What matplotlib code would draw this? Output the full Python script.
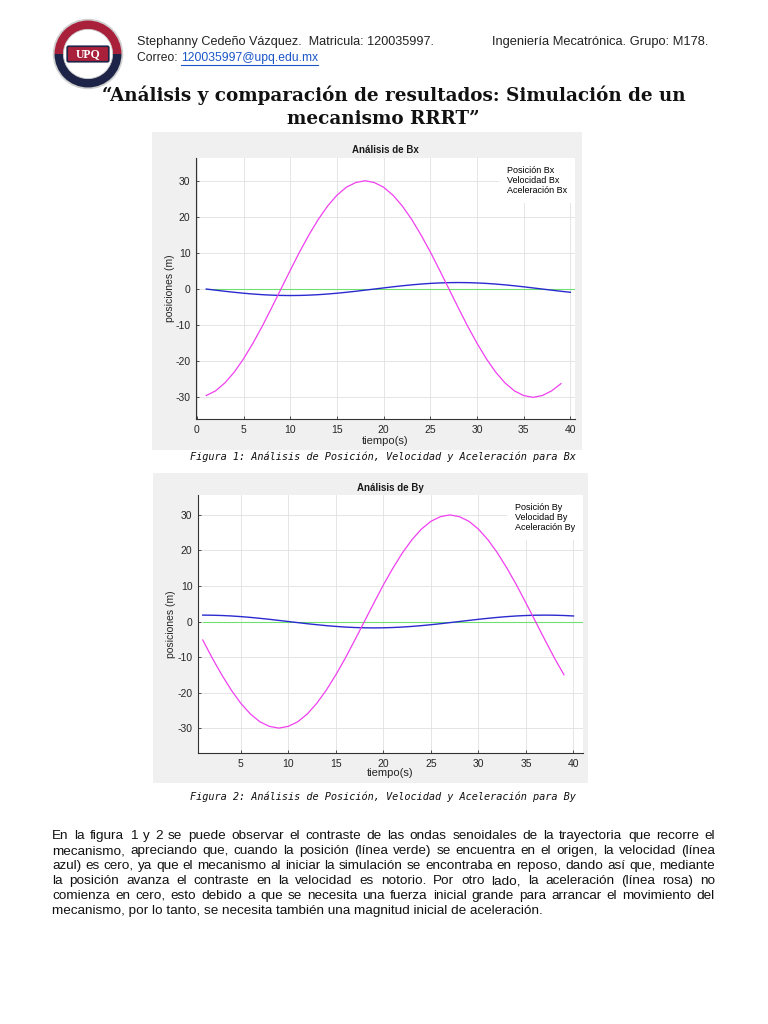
import matplotlib
matplotlib.use('Agg')
import matplotlib.pyplot as plt
from matplotlib.patches import Circle, Wedge, Rectangle, FancyBboxPatch
from matplotlib.lines import Line2D

plt.rcParams['axes.unicode_minus'] = False

# ---------------- data ----------------
tiempo = list(range(1, 42))

bx_pos = [0.0] * 41
bx_vel = [0, -0.31, -0.62, -0.9, -1.16, -1.38, -1.56, -1.69, -1.77, -1.8,
          -1.77, -1.69, -1.56, -1.38, -1.16, -0.9, -0.62, -0.31, 0, 0.31,
          0.62, 0.9, 1.16, 1.38, 1.56, 1.69, 1.77, 1.8, 1.77, 1.69,
          1.56, 1.38, 1.16, 0.9, 0.62, 0.31, 0, -0.31, -0.62, -0.9]
bx_acc = [-29.5, -28.2, -26.0, -23.0, -19.3, -15.0, -10.3, -5.2, 0.0, 5.2,
          10.3, 15.0, 19.3, 23.0, 26.0, 28.2, 29.5, 30.0, 29.5, 28.2,
          26.0, 23.0, 19.3, 15.0, 10.3, 5.2, 0.0, -5.2, -10.3, -15.0,
          -19.3, -23.0, -26.0, -28.2, -29.5, -30.0, -29.5, -28.2, -26.2]

by_pos = [0.0] * 41
by_vel = [1.8, 1.77, 1.69, 1.56, 1.38, 1.16, 0.9, 0.62, 0.31, 0,
          -0.31, -0.62, -0.9, -1.16, -1.38, -1.56, -1.69, -1.77, -1.8, -1.77,
          -1.69, -1.56, -1.38, -1.16, -0.9, -0.62, -0.31, 0, 0.31, 0.62,
          0.9, 1.16, 1.38, 1.56, 1.69, 1.77, 1.8, 1.77, 1.69, 1.56]
by_acc = [-5.2, -10.3, -15.0, -19.3, -23.0, -26.0, -28.2, -29.5, -30.0, -29.5,
          -28.2, -26.0, -23.0, -19.3, -15.0, -10.3, -5.2, 0.0, 5.2, 10.3,
          15.0, 19.3, 23.0, 26.0, 28.2, 29.5, 30.0, 29.5, 28.2, 26.0,
          23.0, 19.3, 15.0, 10.3, 5.2, 0.0, -5.2, -10.3, -15.0]

yticks = [-30, -20, -10, 0, 10, 20, 30]
xticks1 = [0, 5, 10, 15, 20, 25, 30, 35, 40]
xticks2 = [5, 10, 15, 20, 25, 30, 35, 40]
labels_bx = ['Posición Bx', 'Velocidad Bx', 'Aceleración Bx']
labels_by = ['Posición By', 'Velocidad By', 'Aceleración By']

paragraph = [
    "En la figura 1 y 2 se puede observar el contraste de las ondas senoidales de la trayectoria que recorre el",
    "mecanismo, apreciando que, cuando la posición (línea verde) se encuentra en el origen, la velocidad (línea",
    "azul) es cero, ya que el mecanismo al iniciar la simulación se encontraba en reposo, dando así que, mediante",
    "la posición avanza el contraste en la velocidad es notorio. Por otro lado, la aceleración (línea rosa) no",
    "comienza en cero, esto debido a que se necesita una fuerza inicial grande para arrancar el movimiento del",
    "mecanismo, por lo tanto, se necesita también una magnitud inicial de aceleración.",
]

# ---------------- figure ----------------
W, H = 768, 1024
fig = plt.figure(figsize=(7.68, 10.24), dpi=100)
fig.patch.set_facecolor('white')
R = fig.canvas.get_renderer()
SANS = 'Liberation Sans'


def fx(x):
    return x / W


def fy(y):
    return 1 - y / H


def fit(s, x, y, width, ha='left', base=10, **kw):
    t = fig.text(fx(x), fy(y), s, ha=ha, va='center', fontsize=base, **kw)
    w = t.get_window_extent(R).width
    t.set_fontsize(base * width / w)
    return t


# ---------------- logo ----------------
lax = fig.add_axes([fx(51), fy(91), 74 / W, 74 / H])
lax.set_xlim(-1.05, 1.05)
lax.set_ylim(-1.05, 1.05)
lax.set_aspect('equal')
lax.axis('off')
lax.add_patch(Circle((0, 0), 1.0, facecolor='#d0d0d0', edgecolor='none'))
lax.add_patch(Wedge((0, 0), 0.95, 0, 180, facecolor='#a8203a', edgecolor='none'))
lax.add_patch(Wedge((0, 0), 0.95, 180, 360, facecolor='#1d2447', edgecolor='none'))
lax.add_patch(Circle((0, 0), 0.7, facecolor='white', edgecolor='#c9c9c9', lw=0.6))
lax.add_patch(FancyBboxPatch((-0.55, -0.18), 1.1, 0.36, boxstyle='round,pad=0.04',
                             facecolor='#a8203a', edgecolor='#1d2447', lw=1.2))
lax.text(0, 0.0, 'UPQ', ha='center', va='center', fontsize=8.5, fontweight='bold',
         color='white', family='Liberation Serif')

# ---------------- header ----------------
fit('Stephanny Cedeño Vázquez.  Matricula: 120035997.', 137, 42, 296, family=SANS, color='#222222')
fit('Ingeniería Mecatrónica. Grupo: M178.', 492, 42, 218, family=SANS, color='#222222')
c = fit('Correo: ', 137, 58, 44, family=SANS, color='#222222')
cx1 = c.get_window_extent(R).x1
lk = fig.text(cx1 / W, fy(58), '120035997@upq.edu.mx', ha='left', va='center',
              fontsize=c.get_fontsize(), family=SANS, color='#1a56c8')
bb = lk.get_window_extent(R)
fig.add_artist(Line2D([bb.x0 / W, bb.x1 / W], [(bb.y0 - 0.5) / H] * 2,
                      transform=fig.transFigure, color='#1a56c8', lw=0.8))

# ---------------- title ----------------
t1 = fit('\u201cAnálisis y comparación de resultados: Simulación de un', 394, 95, 587,
         ha='center', family='DejaVu Serif', fontweight='bold', color='#111111')
fig.text(fx(383), fy(119), 'mecanismo RRRT\u201d', ha='center', va='center',
         fontsize=t1.get_fontsize(), family='DejaVu Serif', fontweight='bold',
         color='#111111')

# ---------------- chart panels ----------------
for (x0, y0, x1, y1) in [(152, 132, 582, 450), (153, 473, 588, 783)]:
    fig.add_artist(Rectangle((fx(x0), fy(y1)), (x1 - x0) / W, (y1 - y0) / H,
                             transform=fig.transFigure, facecolor='#f0f0f0',
                             edgecolor='none', zorder=-5))


def make_chart(rect, pos, vel, acc, xlim, ylim, xt, title, labels, title_y, xl_y, yl_x):
    left, top, right, bottom = rect
    ax = fig.add_axes([fx(left), fy(bottom), (right - left) / W, (bottom - top) / H])
    ax.set_facecolor('white')
    l1, = ax.plot(tiempo[:len(pos)], pos, color='#6fe06f', lw=0.8, zorder=3)
    l2, = ax.plot(tiempo[:len(vel)], vel, color='#2a2ad0', lw=1.0, zorder=4)
    l3, = ax.plot(tiempo[:len(acc)], acc, color='#f040f0', lw=0.9, zorder=5)
    ax.set_xlim(*xlim)
    ax.set_ylim(*ylim)
    ax.set_xticks(xt)
    ax.set_yticks(yticks)
    ax.grid(True, color='#e0e0e0', lw=0.6)
    ax.set_axisbelow(True)
    for s in ['top', 'right']:
        ax.spines[s].set_visible(False)
    for s in ['left', 'bottom']:
        ax.spines[s].set_color('#333333')
        ax.spines[s].set_linewidth(0.8)
    ax.tick_params(direction='in', length=2.5, width=0.6, labelsize=7.5,
                   colors='#333333', labelcolor='#262626', pad=4)
    for lab in ax.get_xticklabels() + ax.get_yticklabels():
        lab.set_family(SANS)
    fig.text(fx((left + right) / 2), fy(title_y), title, ha='center', va='center',
             fontsize=7, fontweight='bold', family=SANS, color='#1a1a1a')
    fig.text(fx((left + right) / 2), fy(xl_y), 'tiempo(s)', ha='center', va='center',
             fontsize=8, family=SANS, color='#262626')
    fig.text(fx(yl_x), fy((top + bottom) / 2), 'posiciones (m)', ha='center', va='center',
             rotation=90, fontsize=7.5, family=SANS, color='#262626')
    leg = ax.legend([l1, l2, l3], labels, loc='upper right', bbox_to_anchor=(1.0, 1.0),
                    handlelength=0, handletextpad=0, labelspacing=0.12,
                    borderpad=0.9, borderaxespad=0.0, frameon=True, fancybox=False,
                    prop={'family': SANS, 'size': 6.5})
    leg.get_frame().set_facecolor('white')
    leg.get_frame().set_edgecolor('none')
    leg.get_frame().set_alpha(1)
    for h in leg.legend_handles:
        h.set_visible(False)
    return ax


make_chart((196, 158, 575, 419), bx_pos, bx_vel, bx_acc,
           (-0.1, 40.5), (-36, 36.3), xticks1, 'Análisis de Bx', labels_bx, 150, 441, 170)
make_chart((198, 495, 583, 753), by_pos, by_vel, by_acc,
           (0.5, 41.0), (-37, 35.6), xticks2, 'Análisis de By', labels_by, 488, 773, 171)

# ---------------- captions ----------------
fit('Figura 1: Análisis de Posición, Velocidad y Aceleración para Bx', 190, 457, 390,
    family='DejaVu Sans Mono', fontstyle='italic', color='#111111')
fit('Figura 2: Análisis de Posición, Velocidad y Aceleración para By', 190, 797, 390,
    family='DejaVu Sans Mono', fontstyle='italic', color='#111111')

# ---------------- paragraph (justified) ----------------
PX0, PX1 = 52, 715
fs = 10.2
ys = [836, 851, 866, 881, 896, 911]
probe = fig.text(0, 0, 'x', fontsize=fs, family=SANS)
maxw = 0
for line in paragraph[:-1]:
    probe.set_text(line)
    maxw = max(maxw, probe.get_window_extent(R).width)
probe.remove()
if maxw > (PX1 - PX0):
    fs = fs * (PX1 - PX0) / maxw * 0.99

for i, (line, y) in enumerate(zip(paragraph, ys)):
    if i == len(paragraph) - 1:
        fig.text(fx(PX0), fy(y), line, ha='left', va='center', fontsize=fs,
                 family=SANS, color='#111111')
        continue
    words = line.split(' ')
    texts = [fig.text(0, fy(y), w, ha='left', va='center', fontsize=fs,
                      family=SANS, color='#111111') for w in words]
    widths = [t.get_window_extent(R).width for t in texts]
    gap = ((PX1 - PX0) - sum(widths)) / (len(words) - 1)
    x = PX0
    for t, w in zip(texts, widths):
        t.set_x(fx(x))
        x += w + gap

fig.savefig('out.png', dpi=100, facecolor='white')
